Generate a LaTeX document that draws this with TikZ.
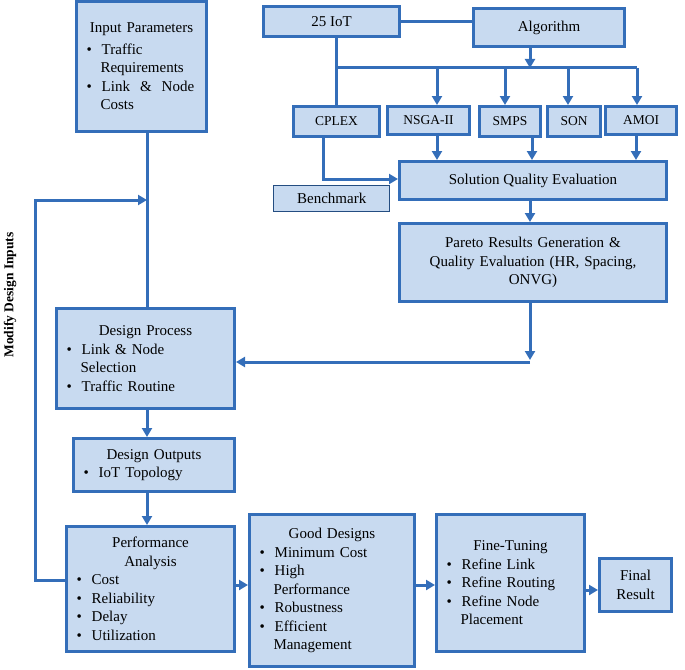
\documentclass[tikz,border=0pt]{standalone}
\usepackage{fontspec}
\setmainfont{Liberation Serif}
\usetikzlibrary{arrows.meta}
\definecolor{bfill}{RGB}{200,218,240}
\definecolor{bline}{RGB}{52,110,185}
\newcommand{\ttl}[1]{\makebox[\linewidth][c]{#1}}
\newcommand{\itm}[1]{\hspace*{6pt}\textbullet\ \ #1}
\newcommand{\cnt}[1]{\hspace*{20pt}#1}
\begin{document}
\begin{tikzpicture}[x=1pt,y=-1pt,
  box/.style={draw=bline,line width=3pt,fill=bfill,anchor=north west,inner sep=3pt,font=\fontsize{15}{18.5}\selectfont},
  lbl/.style={font=\fontsize{15}{18}\selectfont},
  ln/.style={draw=bline,line width=3pt},
  ar/.style={ln,-{Triangle[length=9pt,width=10pt]}}]
\useasboundingbox (0,0) rectangle (685,669);
% boxes
\node[box,minimum width=130,minimum height=130,text width=122,align=left] (inp) at (75,0) {\ttl{Input Parameters}\\[3pt]\itm{Traffic}\\\cnt{Requirements}\\\itm{Link \ \& \ Node}\\\cnt{Costs}\\[14pt]};
\node[box,minimum width=136,minimum height=30] (iot) at (262,5) {};
\node[lbl] at (iot.center) {25 IoT};
\node[box,minimum width=151,minimum height=38] (alg) at (472,7) {};
\node[lbl] at (alg.center) {Algorithm};
\node[box,minimum width=86,minimum height=30] (cplex) at (292,105) {};
\node[lbl,font=\fontsize{13.5}{15}\selectfont] at (cplex.center) {CPLEX};
\node[box,minimum width=82,minimum height=28] (nsga) at (386,105) {};
\node[lbl,font=\fontsize{13.5}{15}\selectfont] at (nsga.center) {NSGA-II};
\node[box,minimum width=61,minimum height=30] (smps) at (478,105) {};
\node[lbl,font=\fontsize{13.5}{15}\selectfont] at (smps.center) {SMPS};
\node[box,minimum width=53,minimum height=30] (son) at (546,105) {};
\node[lbl,font=\fontsize{13.5}{15}\selectfont] at (son.center) {SON};
\node[box,minimum width=71,minimum height=28] (amoi) at (604,105) {};
\node[lbl,font=\fontsize{13.5}{15}\selectfont] at (amoi.center) {AMOI};
\node[box,minimum width=267,minimum height=38] (sqe) at (398,160) {};
\node[lbl] at (sqe.center) {Solution Quality Evaluation};
\node[box,line width=1.4pt,draw=bline!70!black,minimum width=116,minimum height=26] (bench) at (273,185) {};
\node[lbl] at (bench.center) {Benchmark};
\node[box,minimum width=267,minimum height=78,align=center,text width=259] (par) at (398,222) {Pareto Results Generation \&\\Quality Evaluation (HR, Spacing,\\ONVG)};
\node[box,minimum width=178,minimum height=100,text width=170,align=left] (dp) at (55,307) {\ttl{Design Process}\\\itm{Link \& Node}\\\cnt{Selection}\\\itm{Traffic Routine}};
\node[box,minimum width=161,minimum height=53,text width=153,align=left] (do) at (72,437) {\ttl{Design Outputs}\\\itm{IoT Topology}};
\node[box,minimum width=168,minimum height=125,text width=160,align=left] (pa) at (65,525) {\ttl{Performance}\\\ttl{Analysis}\\\itm{Cost}\\\itm{Reliability}\\\itm{Delay}\\\itm{Utilization}};
\node[box,minimum width=165,minimum height=152,text width=157,align=left] (gd) at (248,513) {\ttl{Good Designs}\\\itm{Minimum Cost}\\\itm{High}\\\cnt{Performance}\\\itm{Robustness}\\\itm{Efficient}\\\cnt{Management}};
\node[box,minimum width=148,minimum height=137,text width=140,align=left] (ft) at (435,513) {\ttl{Fine-Tuning}\\\itm{Refine Link}\\\itm{Refine Routing}\\\itm{Refine Node}\\\cnt{Placement}};
\node[box,minimum width=72,minimum height=53,text width=64,align=center] (fr) at (598,557) {Final\\Result};
\node[rotate=90,font=\bfseries\fontsize{13.5}{15}\selectfont] (mdi) at (10,295) {Modify Design Inputs};
% coordinates
\coordinate (bl) at (336,68); \coordinate (br) at (637,68);
\coordinate (pc) at (530,362);
\coordinate (fb1) at (35,580); \coordinate (fb2) at (35,200); \coordinate (fb3) at (147,200);
% connectors
\draw[ln] (iot.east |- 0,22) -- (alg.west |- 0,22);
\draw[ar] (alg.south -| 530,0) -- (530,68);
\draw[ln] (bl) -- (br);
\draw[ln] (iot.south -| bl) -- (cplex.north -| bl);
\draw[ar] (437,68) -- (nsga.north -| 437,0);
\draw[ar] (505,68) -- (smps.north -| 505,0);
\draw[ar] (568,68) -- (son.north -| 568,0);
\draw[ar] (br) -- (amoi.north -| br);
\draw[ar] (cplex.south -| 323,0) |- (sqe.west |- 0,179);
\draw[ar] (nsga.south -| 437,0) -- (sqe.north -| 437,0);
\draw[ar] (smps.south -| 532,0) -- (sqe.north -| 532,0);
\draw[ar] (amoi.south -| 636,0) -- (sqe.north -| 636,0);
\draw[ar] (sqe.south -| 530,0) -- (par.north -| 530,0);
\draw[ar] (par.south -| 530,0) -- (530,360);
\draw[ar] (pc) -- (dp.east |- pc);
\draw[ln] (inp.south -| 147,0) -- (dp.north -| 147,0);
\draw[ar] (dp.south -| 147,0) -- (do.north -| 147,0);
\draw[ar] (do.south -| 147,0) -- (pa.north -| 147,0);
\draw[ar] (pa.east |- 0,585) -- (gd.west |- 0,585);
\draw[ar] (gd.east |- 0,585) -- (ft.west |- 0,585);
\draw[ar] (ft.east |- 0,590) -- (fr.west |- 0,590);
\draw[ar] (pa.west |- fb1) -- (fb1) -- (fb2) -- (fb3);
\end{tikzpicture}
\end{document}
